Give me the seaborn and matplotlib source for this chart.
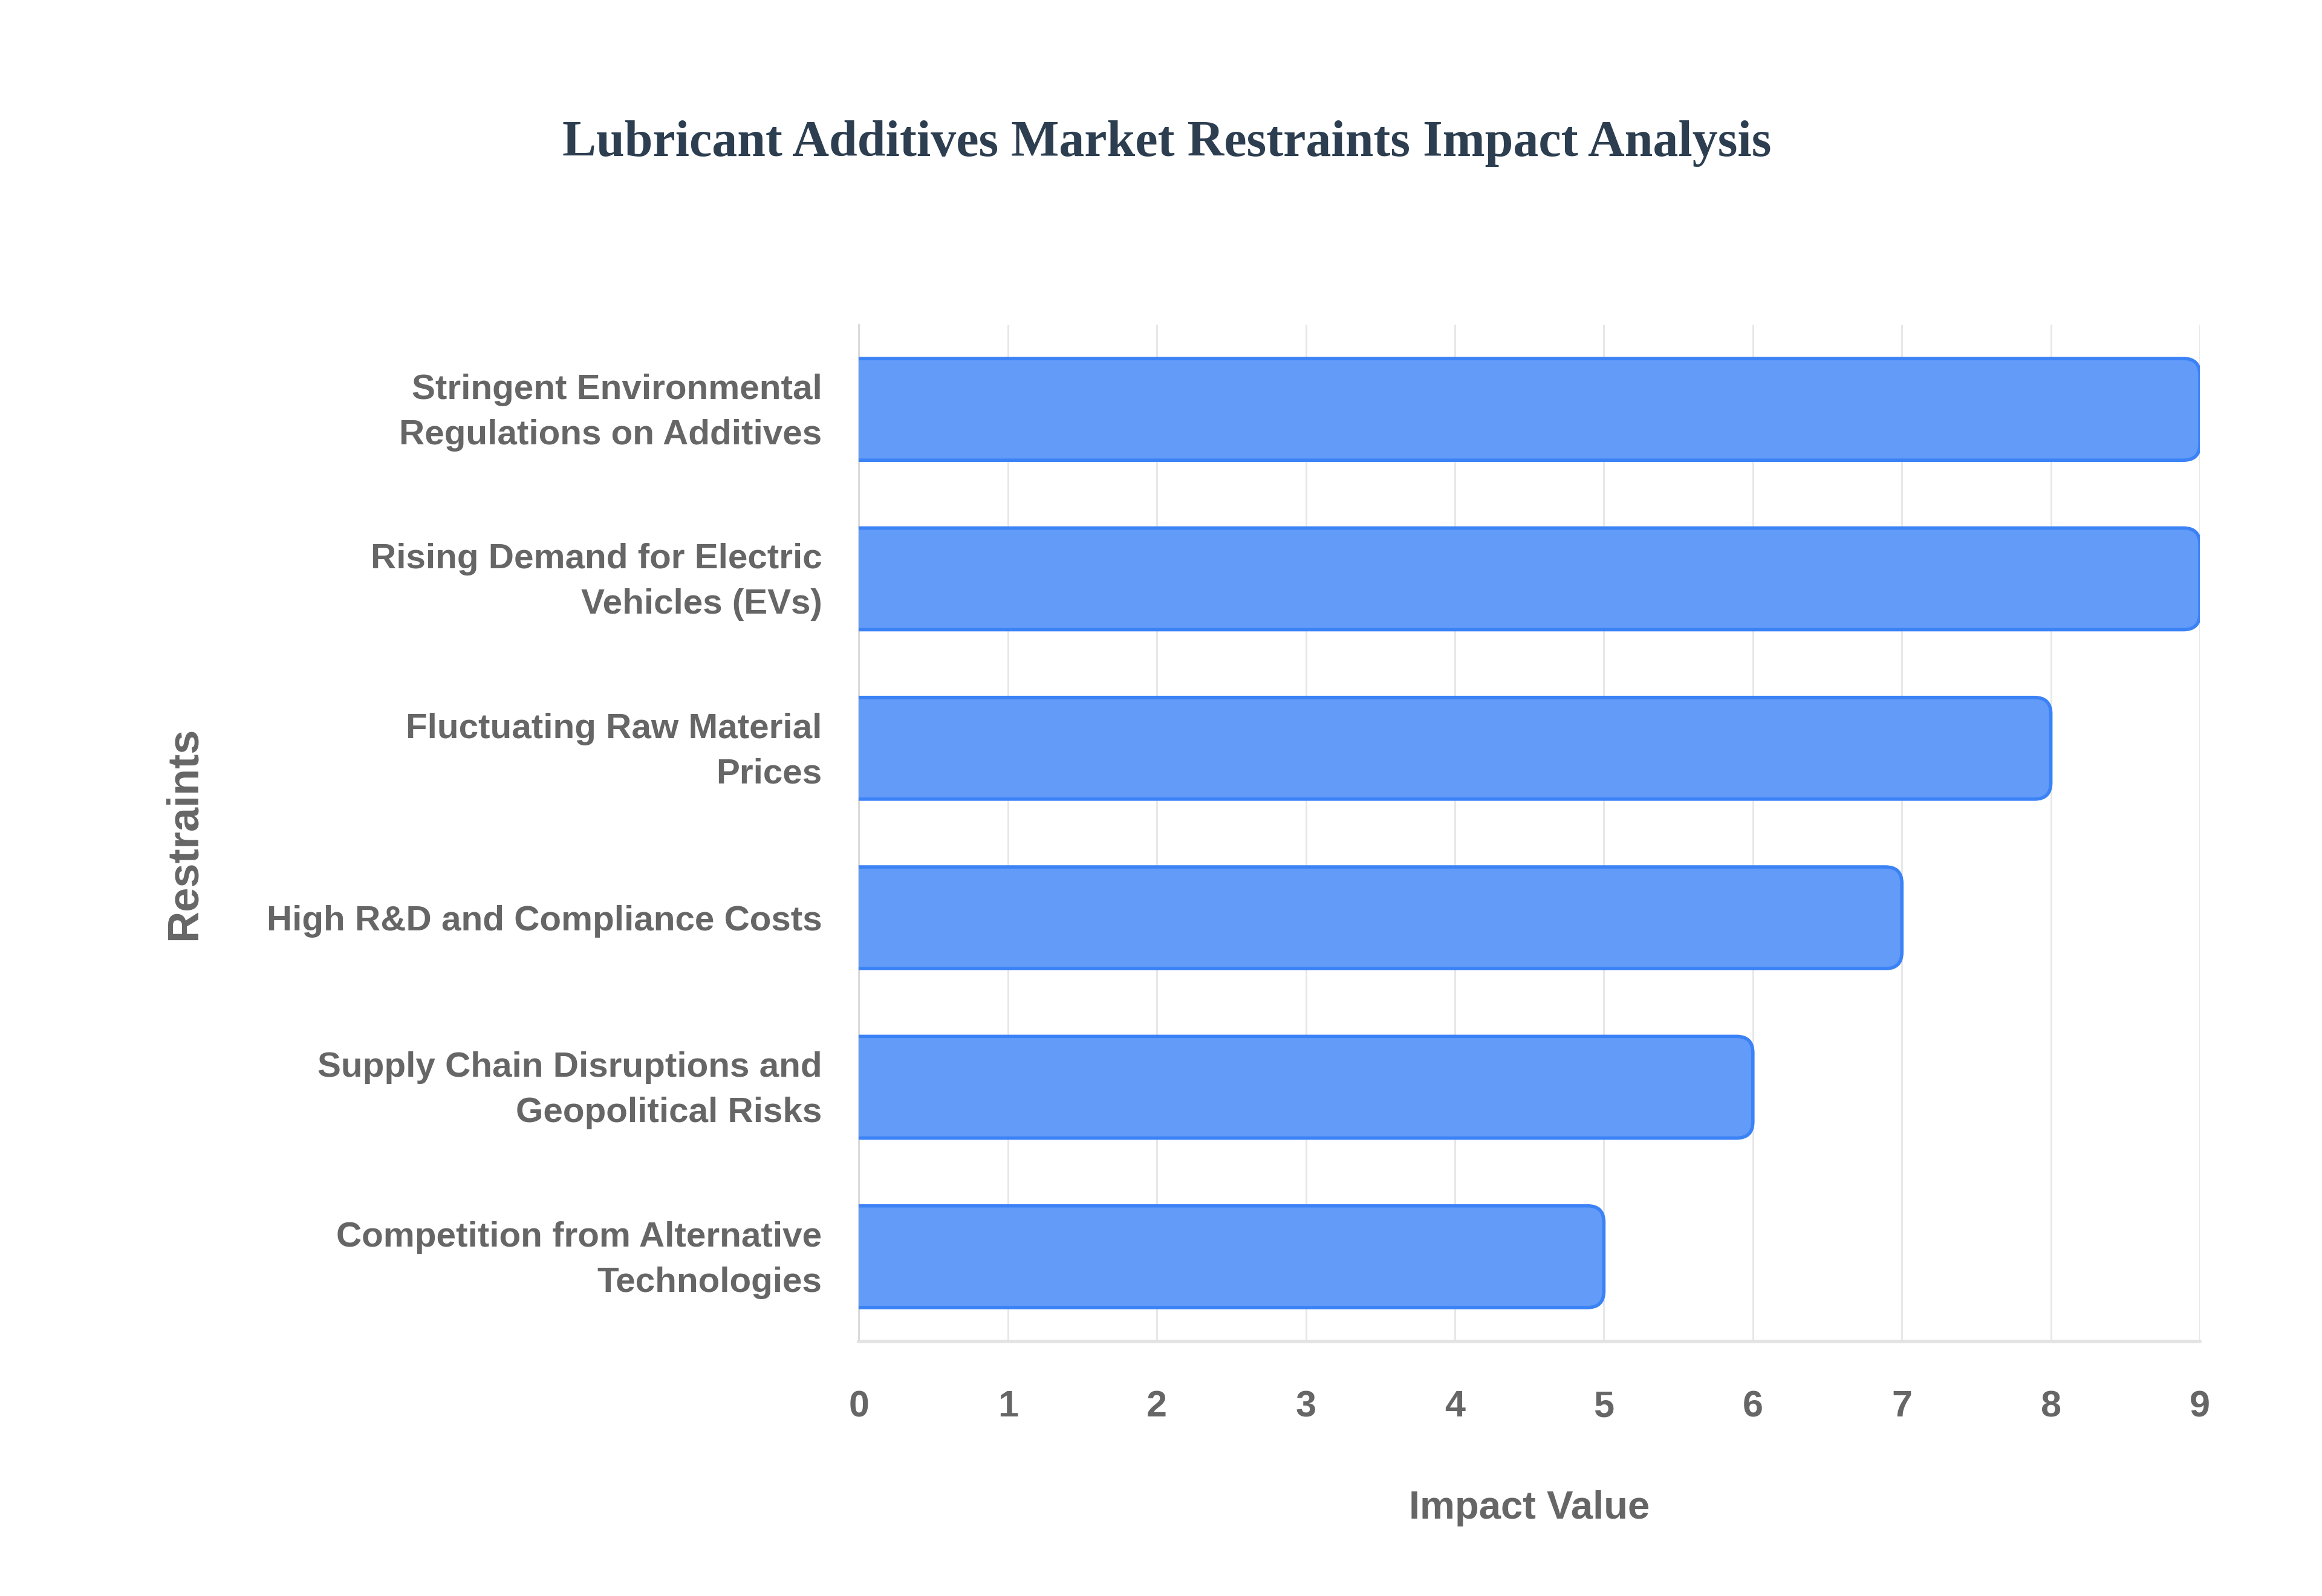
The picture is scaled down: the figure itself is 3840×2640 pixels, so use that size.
import matplotlib
matplotlib.use("Agg")
import matplotlib.pyplot as plt
import matplotlib.transforms as mtransforms
from matplotlib.patches import FancyBboxPatch
import seaborn as sns
import pandas as pd

# data
restraints = [
    "Stringent Environmental\nRegulations on Additives",
    "Rising Demand for Electric\nVehicles (EVs)",
    "Fluctuating Raw Material\nPrices",
    "High R&D and Compliance Costs",
    "Supply Chain Disruptions and\nGeopolitical Risks",
    "Competition from Alternative\nTechnologies",
]
impact = [9, 9, 8, 7, 6, 5]
x_ticks = [0, 1, 2, 3, 4, 5, 6, 7, 8, 9]

df = pd.DataFrame({"Restraints": restraints, "Impact Value": impact})

sns.set_style("white")
plt.rcParams["font.family"] = ["Liberation Sans", "DejaVu Sans"]

TEXT = "#666666"
GRID = "#e6e6e6"
FILL = "#629bf8"
EDGE = "#3b82f6"

fig = plt.figure(figsize=(38.4, 26.4), dpi=100)
ax = fig.add_axes([0.3699, 0.1595, 0.9474 - 0.3699, 0.7966 - 0.1595])

sns.barplot(data=df, x="Impact Value", y="Restraints", orient="h",
            color=FILL, width=0.6, saturation=1, ax=ax, zorder=3)

ax.set_xlim(0, 9)
ax.set_ylim(5.5, -0.5)

# swap the rectangles for ones with rounded right corners
px_x = ax.bbox.width / 9.0
px_y = ax.bbox.height / 6.0
r = 27 / px_x
for p in list(ax.patches):
    x0, y0, w, h = p.get_x(), p.get_y(), p.get_width(), p.get_height()
    p.remove()
    box = FancyBboxPatch((x0 - r, y0), w + r, h,
                         boxstyle=f"round,pad=0,rounding_size={r}",
                         mutation_aspect=px_x / px_y,
                         facecolor=FILL, edgecolor=EDGE, linewidth=4,
                         zorder=3, clip_on=True)
    ax.add_patch(box)

ax.set_xticks(x_ticks)
ax.grid(axis="x", color=GRID, linewidth=2, zorder=0)
ax.grid(axis="y", visible=False)

for side in ["top", "right"]:
    ax.spines[side].set_visible(False)
ax.spines["left"].set_color("#d9d9d9")
ax.spines["left"].set_linewidth(2)
ax.spines["bottom"].set_color("#e3e3e3")
ax.spines["bottom"].set_linewidth(4)

ax.tick_params(axis="x", length=27, width=1.5, color=GRID, pad=31,
               labelsize=44, labelcolor=TEXT)
ax.tick_params(axis="y", length=0, pad=44, labelsize=42, labelcolor=TEXT)
for lab in ax.get_xticklabels() + ax.get_yticklabels():
    lab.set_fontweight("bold")

# two-line labels sit a little high in the reference
lift = mtransforms.ScaledTranslation(0, 8 / 72, fig.dpi_scale_trans)
for lab in ax.get_yticklabels():
    lab.set_linespacing(1.5)
    if "\n" in lab.get_text():
        lab.set_transform(lab.get_transform() + lift)

ax.set_xlabel("Impact Value", fontsize=47, fontweight="bold", color=TEXT)
ax.xaxis.set_label_coords(0.5, -0.164)
ax.xaxis.label.set_va("center")
ax.set_ylabel("Restraints", fontsize=52, fontweight="bold", color=TEXT)
ax.yaxis.set_label_coords(-0.503, 0.5)
ax.yaxis.label.set_va("center")

fig.text(0.5025, 0.910, "Lubricant Additives Market Restraints Impact Analysis",
         ha="center", va="center", fontsize=60.5, fontweight="bold",
         color="#2c3e50", family=["Liberation Serif", "DejaVu Serif"])

fig.savefig("out.png", dpi=100, facecolor="white")
